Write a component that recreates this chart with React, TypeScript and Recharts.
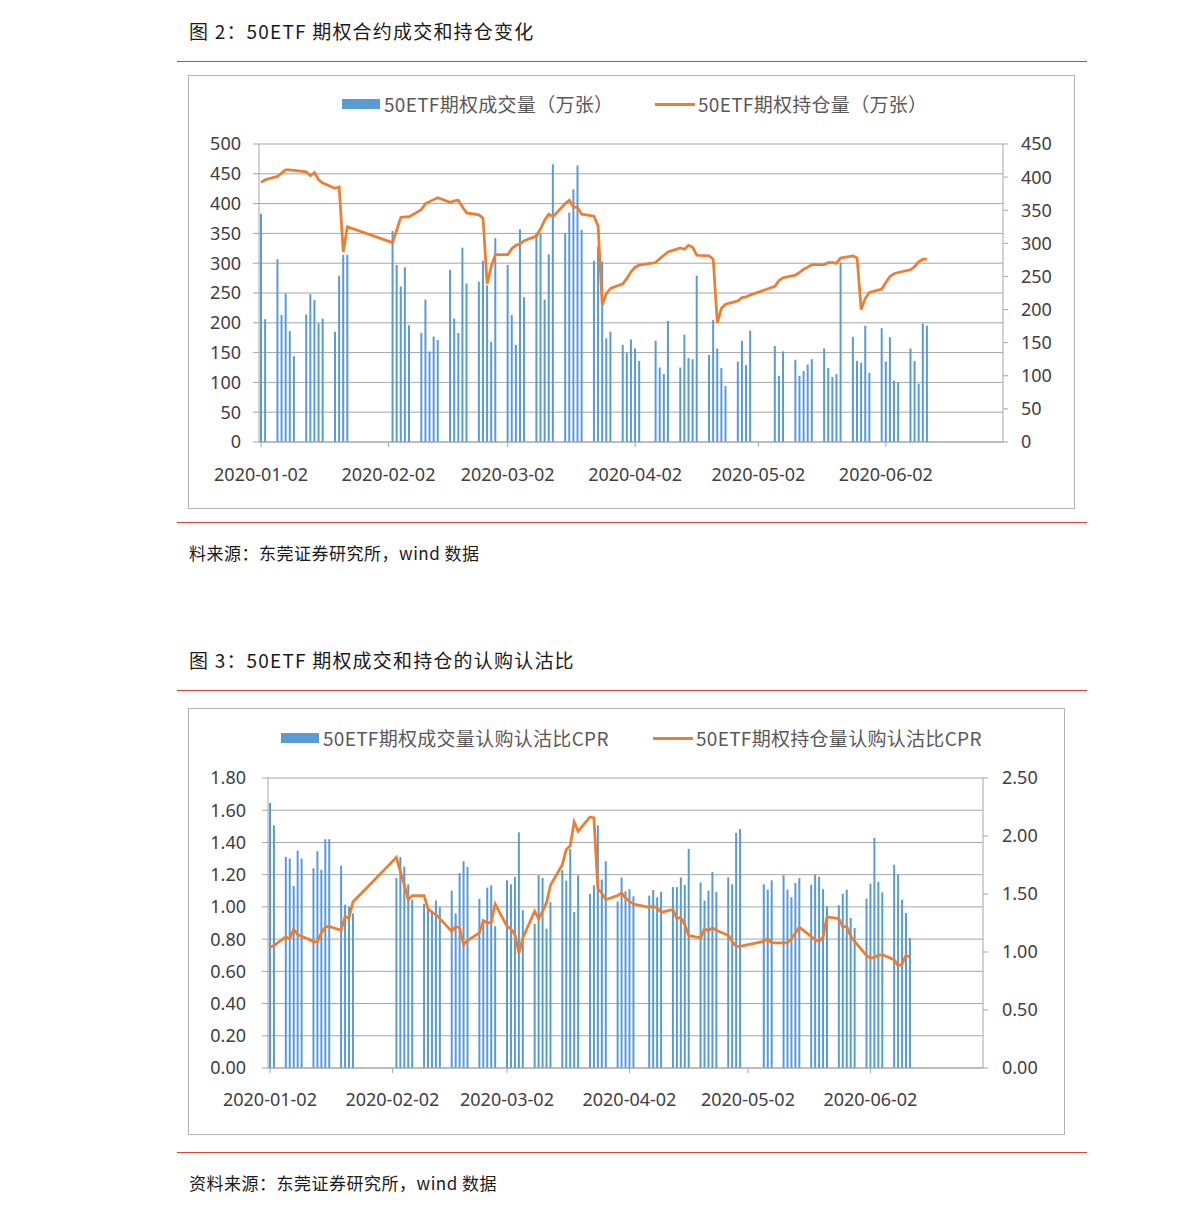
import React from "react";
import { Bar, CartesianGrid, ComposedChart, Line, XAxis, YAxis } from "recharts";

// 2020-01 .. 2020-06, calendar day slots of the date axis
const MONTH_LENGTHS = [31, 29, 31, 30, 31, 30];

// trading days (day of month) per month
const TRADING_DAYS = [
  [2, 3, 6, 7, 8, 9, 10, 13, 14, 15, 16, 17, 20, 21, 22, 23],
  [3, 4, 5, 6, 7, 10, 11, 12, 13, 14, 17, 18, 19, 20, 21, 24, 25, 26, 27, 28],
  [2, 3, 4, 5, 6, 9, 10, 11, 12, 13, 16, 17, 18, 19, 20, 23, 24, 25, 26, 27, 30, 31],
  [1, 2, 3, 7, 8, 9, 10, 13, 14, 15, 16, 17, 20, 21, 22, 23, 24, 27, 28, 29, 30],
  [6, 7, 8, 11, 12, 13, 14, 15, 18, 19, 20, 21, 22, 25, 26, 27, 28, 29],
  [1, 2, 3, 4, 5, 8, 9, 10, 11, 12]
];

const DATE_TICKS = ["2020-01-02", "2020-02-02", "2020-03-02", "2020-04-02", "2020-05-02", "2020-06-02"];

// chart 1: volume (万张, left axis)
const VOLUME = [
  383, 206, 307, 213, 249, 186, 144, 214, 248, 238, 199, 207, 185, 279, 314, 314,
  354, 297, 261, 293, 196, 183, 239, 152, 177, 171, 289, 207, 183, 326, 266, 269, 304, 263, 168, 342,
  297, 213, 163, 357, 243, 351, 350, 239, 315, 466, 350, 385, 424, 464, 356, 304, 328, 303, 174, 185, 163, 149,
  172, 157, 136, 170, 125, 114, 203, 125, 180, 141, 139, 279, 146, 205, 157, 124, 94, 135, 170, 129, 187,
  161, 111, 152, 138, 111, 119, 130, 139, 157, 124, 109, 114, 301, 176, 136, 133, 195, 116,
  191, 135, 176, 103, 100, 157, 136, 98, 199, 195
];

// chart 1: open interest (万张, right axis)
const OPEN_INTEREST = [
  392, 396, 401, 406, 411, 411, 410, 408, 402, 407, 396, 391, 383, 385, 287, 325,
  301, 320, 339, 340, 340, 351, 360, 363, 366, 369, 362, 364, 365, 355, 346, 343, 338, 239, 265, 283,
  283, 292, 297, 299, 304, 311, 322, 335, 344, 340, 360, 365, 355, 354, 344, 341, 326, 207, 224, 232, 239, 247,
  257, 264, 267, 271, 277, 282, 287, 293, 291, 297, 294, 282, 281, 276, 180, 202, 208, 213, 218, 219, 222,
  235, 244, 248, 252, 256, 261, 264, 268, 268, 271, 271, 270, 278, 281, 278, 200, 217, 226,
  231, 241, 250, 254, 256, 260, 265, 272, 276, 276
];

// chart 2: volume call/put ratio (left axis)
const VOLUME_CPR = [
  1.645, 1.506, 1.31, 1.3, 1.13, 1.35, 1.3, 1.24, 1.345, 1.23, 1.42, 1.42, 1.256, 1.014, 1.0, 0.96,
  1.18, 1.31, 1.25, 1.14, 1.045, 1.02, 0.99, 0.977, 1.04, 0.997, 1.1, 0.96, 1.21, 1.283, 1.248, 1.05, 0.91, 1.12, 1.134, 0.88,
  1.165, 1.14, 1.186, 1.463, 0.98, 0.894, 1.196, 1.18, 0.865, 1.03, 1.23, 1.163, 1.36, 0.968, 1.196, 1.08, 1.134, 1.506, 1.17, 1.283, 1.034, 1.183,
  1.097, 1.11, 1.066, 1.07, 1.105, 1.06, 1.094, 1.123, 1.123, 1.183, 1.136, 1.36, 1.152, 1.039, 1.1, 1.217, 1.092, 1.183, 1.14, 1.459, 1.483,
  1.14, 1.107, 1.165, 1.196, 1.107, 1.061, 1.148, 1.179, 1.138, 1.2, 1.186, 1.11, 1.003, 1.01, 1.082, 1.107, 0.931, 0.869,
  1.051, 1.144, 1.428, 1.155, 1.09, 1.262, 1.2, 1.045, 0.962, 0.807
];

// chart 2: open interest call/put ratio (right axis)
const OI_CPR = [
  1.04, 1.055, 1.13, 1.115, 1.198, 1.15, 1.135, 1.092, 1.086, 1.164, 1.216, 1.221, 1.187, 1.308, 1.293, 1.431,
  1.816, 1.695, 1.58, 1.451, 1.486, 1.486, 1.374, 1.342, 1.322, 1.288, 1.178, 1.221, 1.207, 1.063, 1.098, 1.164, 1.27, 1.25, 1.256, 1.414,
  1.221, 1.198, 1.15, 0.992, 1.121, 1.351, 1.288, 1.351, 1.423, 1.575, 1.753, 1.882, 1.917, 2.121, 2.04, 2.164, 2.156, 1.546, 1.509, 1.451, 1.486, 1.509,
  1.466, 1.437, 1.414, 1.385, 1.394, 1.38, 1.342, 1.365, 1.288, 1.299, 1.236, 1.141, 1.121, 1.201, 1.184, 1.207, 1.187, 1.144, 1.092, 1.049, 1.049,
  1.092, 1.115, 1.078, 1.078, 1.078, 1.115, 1.164, 1.213, 1.135, 1.106, 1.092, 1.127, 1.302, 1.288, 1.216, 1.221, 1.135, 1.092,
  0.971, 0.948, 0.954, 0.971, 0.977, 0.934, 0.882, 0.897, 0.971, 0.954
];

const VOL_TICKS = [0, 50, 100, 150, 200, 250, 300, 350, 400, 450, 500];
const OI_TICKS = [0, 50, 100, 150, 200, 250, 300, 350, 400, 450];
const VCPR_TICKS = [0, 0.2, 0.4, 0.6, 0.8, 1.0, 1.2, 1.4, 1.6, 1.8];
const OCPR_TICKS = [0, 0.5, 1.0, 1.5, 2.0, 2.5];

const BLUE = "#5b9bd5";
const ORANGE = "#ed7d31";
const GRID = "#a6a6a6";
const RED = "#d9413b";
const AXIS_FONT = "'Noto Sans', 'Noto Sans CJK SC', sans-serif";
const CJK_FONT = "'Noto Sans CJK SC', 'Noto Sans', sans-serif";

const pad = (n: number) => String(n).padStart(2, "0");

function buildRows(bars: number[], line: number[]) {
  const rows: Array<{ date: string; bar: number | null; line: number | null }> = [];
  let k = 0;
  MONTH_LENGTHS.forEach((len, m) => {
    for (let d = m === 0 ? 2 : 1; d <= len; d++) {
      const traded = TRADING_DAYS[m].includes(d);
      rows.push({
        date: `2020-${pad(m + 1)}-${pad(d)}`,
        bar: traded ? bars[k] : null,
        line: traded ? line[k] : null
      });
      if (traded) k++;
    }
  });
  return rows;
}

const tickStyle = { fill: "#404040", fontSize: 18, fontFamily: AXIS_FONT };

function Label({ x, y, size, children, color = "#1a1a1a", spacing = 0 }: any) {
  return (
    <div
      style={{
        position: "absolute",
        left: x,
        top: y - 14,
        height: 28,
        lineHeight: "28px",
        fontSize: size,
        color,
        fontFamily: CJK_FONT,
        letterSpacing: spacing,
        whiteSpace: "nowrap"
      }}
    >
      {children}
    </div>
  );
}

function Rule({ y }: { y: number }) {
  return <div style={{ position: "absolute", left: 177, top: y, width: 910, height: 1, background: RED }} />;
}

function LegendItem({ x, y, kind, text }: { x: number; y: number; kind: "bar" | "line"; text: string }) {
  return (
    <>
      {kind === "bar" ? (
        <div style={{ position: "absolute", left: x, top: y - 5, width: 38, height: 10, background: BLUE }} />
      ) : (
        <div style={{ position: "absolute", left: x, top: y - 1.5, width: 40, height: 3, background: ORANGE }} />
      )}
      <Label x={x + (kind === "bar" ? 42 : 43)} y={y} size={19} color="#595959" spacing={0.3}>
        {text}
      </Label>
    </>
  );
}

function VolumeChart() {
  const rows = buildRows(VOLUME, OPEN_INTEREST);
  return (
    <div style={{ position: "absolute", left: 188, top: 75 }}>
      <ComposedChart width={886} height={433} data={rows} margin={{ top: 69, right: 11, bottom: 16, left: 11 }}>
        <CartesianGrid yAxisId="left" vertical={false} stroke={GRID} />
        <XAxis
          dataKey="date"
          ticks={DATE_TICKS}
          interval={0}
          height={50}
          tick={tickStyle}
          tickSize={5}
          tickMargin={21}
          stroke={GRID}
        />
        <YAxis
          yAxisId="left"
          width={60}
          domain={[0, 500]}
          ticks={VOL_TICKS}
          tick={tickStyle}
          tickSize={6}
          tickMargin={12}
          stroke={GRID}
        />
        <YAxis
          yAxisId="right"
          orientation="right"
          width={60}
          domain={[0, 450]}
          ticks={OI_TICKS}
          tick={{ ...tickStyle, textAnchor: "start" }}
          tickSize={5}
          tickMargin={13}
          stroke={GRID}
        />
        <Bar yAxisId="left" dataKey="bar" fill={BLUE} barSize={2} isAnimationActive={false} />
        <Line
          yAxisId="right"
          type="linear"
          dataKey="line"
          stroke={ORANGE}
          strokeWidth={2.75}
          dot={false}
          connectNulls
          isAnimationActive={false}
        />
      </ComposedChart>
    </div>
  );
}

function RatioChart() {
  const rows = buildRows(VOLUME_CPR, OI_CPR);
  return (
    <div style={{ position: "absolute", left: 188, top: 708 }}>
      <ComposedChart width={876} height={426} data={rows} margin={{ top: 70, right: 15, bottom: 16, left: 14 }}>
        <CartesianGrid yAxisId="left" vertical={false} stroke={GRID} />
        <XAxis
          dataKey="date"
          ticks={DATE_TICKS}
          interval={0}
          height={50}
          tick={tickStyle}
          tickSize={5}
          tickMargin={20}
          stroke={GRID}
        />
        <YAxis
          yAxisId="left"
          width={66}
          domain={[0, 1.8]}
          ticks={VCPR_TICKS}
          tick={tickStyle}
          tickFormatter={(v: number) => v.toFixed(2)}
          tickSize={6}
          tickMargin={16}
          stroke={GRID}
        />
        <YAxis
          yAxisId="right"
          orientation="right"
          width={66}
          domain={[0, 2.5]}
          ticks={OCPR_TICKS}
          tick={{ ...tickStyle, textAnchor: "start" }}
          tickFormatter={(v: number) => v.toFixed(2)}
          tickSize={5}
          tickMargin={14}
          stroke={GRID}
        />
        <Bar yAxisId="left" dataKey="bar" fill={BLUE} barSize={2} isAnimationActive={false} />
        <Line
          yAxisId="right"
          type="linear"
          dataKey="line"
          stroke={ORANGE}
          strokeWidth={2.75}
          dot={false}
          connectNulls
          isAnimationActive={false}
        />
      </ComposedChart>
    </div>
  );
}

export default function App() {
  return (
    <div style={{ position: "absolute", left: 0, top: 0, width: 1191, height: 1212, background: "#fff" }}>
      <Label x={189} y={31} size={19} spacing={1.2}>
        图 2：50ETF 期权合约成交和持仓变化
      </Label>
      <Rule y={61} />
      <div
        style={{
          position: "absolute",
          left: 188,
          top: 75,
          width: 887,
          height: 434,
          boxSizing: "border-box",
          border: "1px solid #b4b4b4"
        }}
      />
      <LegendItem x={342} y={104} kind="bar" text="50ETF期权成交量（万张）" />
      <LegendItem x={655} y={104} kind="line" text="50ETF期权持仓量（万张）" />
      <VolumeChart />
      <Rule y={522} />
      <Label x={189} y={553} size={17} spacing={0.5}>
        料来源：东莞证券研究所，wind 数据
      </Label>

      <Label x={189} y={660} size={19} spacing={1.2}>
        图 3：50ETF 期权成交和持仓的认购认沽比
      </Label>
      <Rule y={690} />
      <div
        style={{
          position: "absolute",
          left: 188,
          top: 708,
          width: 877,
          height: 427,
          boxSizing: "border-box",
          border: "1px solid #b4b4b4"
        }}
      />
      <LegendItem x={281} y={738} kind="bar" text="50ETF期权成交量认购认沽比CPR" />
      <LegendItem x={653} y={738} kind="line" text="50ETF期权持仓量认购认沽比CPR" />
      <RatioChart />
      <Rule y={1152} />
      <Label x={189} y={1183} size={17} spacing={0.5}>
        资料来源：东莞证券研究所，wind 数据
      </Label>
    </div>
  );
}
